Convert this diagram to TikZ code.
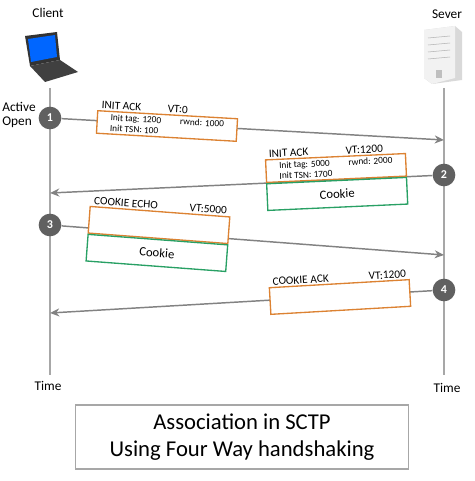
\documentclass[tikz,border=0pt]{standalone}
\usepackage{fontspec}
\setmainfont{Carlito}
\usetikzlibrary{arrows.meta}
\definecolor{org}{RGB}{220,130,50}
\definecolor{grn}{RGB}{40,160,100}
\definecolor{ln}{RGB}{130,130,130}
\begin{document}
\begin{tikzpicture}[x=0.75pt,y=-0.75pt,
  life/.style={draw=ln!70,line width=0.9pt},
  msg/.style={draw=ln,line width=1.1pt,-{Stealth[length=7pt,width=6pt]}},
  stepc/.style={circle,fill=gray!75!black,text=white,inner sep=0pt,minimum size=17pt,font=\fontsize{9}{10}\selectfont\bfseries},
  obox/.style={draw=org,line width=1pt,fill=white,minimum width=105pt,inner sep=2pt,align=left,font=\fontsize{7}{8}\selectfont},
  gbox/.style={draw=grn,line width=1pt,fill=white,minimum width=105pt,minimum height=20pt,font=\fontsize{9.5}{10}\selectfont},
  lab/.style={font=\fontsize{8.5}{10}\selectfont,inner sep=1pt}]
\useasboundingbox (0,0) rectangle (474,481);
% icons
\fill[gray!30] (424,30) -- (455,26) -- (462,32) -- (462,80) -- (432,84) -- (424,78) -- cycle;
\fill[gray!10] (424,30) -- (455,26) -- (455,78) -- (432,84) -- (424,78) -- cycle;
\draw[gray!60] (428,38) -- (450,36) (428,45) -- (450,43) (428,52) -- (450,50) (428,59) -- (450,57);
\fill[gray!50] (436,70) rectangle (442,78);
\fill[black!80] (25,36) -- (57,32) -- (60,60) -- (30,66) -- cycle;
\fill[blue!60!cyan] (28,39) -- (55,35) -- (57,57) -- (31,62) -- cycle;
\fill[black!75] (30,66) -- (60,60) -- (78,72) -- (45,82) -- cycle;
\node[font=\fontsize{10}{12}\selectfont] (cl) at (48,13) {Client};
\node[font=\fontsize{10}{12}\selectfont] (sv) at (447,14) {Sever};
% lifelines
\coordinate (ct) at (50,88); \coordinate (cb) at (50,375);
\coordinate (st) at (444,88); \coordinate (sb) at (444,375);
\draw[life] (ct) -- (cb);
\draw[life] (st) -- (sb);
\node[font=\fontsize{10}{12}\selectfont] (tc) at (48,386) {Time};
\node[font=\fontsize{10}{12}\selectfont] (ts) at (447,388) {Time};
\node[font=\fontsize{10}{12}\selectfont,align=left] (ao) at (19,115) {Active\\[-2pt]Open};
% steps
\node[stepc] (s1) at (50,118) {1};
\node[stepc] (s2) at (444,175) {2};
\node[stepc] (s3) at (50,225) {3};
\node[stepc] (s4) at (444,290) {4};
\coordinate (e1) at (444,140);
\coordinate (e2) at (50,193);
\coordinate (e3) at (444,255);
\coordinate (e4) at (50,313);
\draw[msg] (s1) -- (e1);
\draw[msg] (s2) -- (e2);
\draw[msg] (s3) -- (e3);
\draw[msg] (s4) -- (e4);
% message 1
\node[obox,rotate=-3.3] (m1) at (167,126) {Init tag: 1200\hspace{14pt}rwnd: 1000\\Init TSN: 100};
\node[lab,rotate=-3.3,anchor=south west] (l1) at ([xshift=2pt]m1.north west) {INIT ACK\hspace{20pt}VT:0};
% message 2
\node[obox,rotate=2.6] (m2) at (336,168) {Init tag: 5000\hspace{14pt}rwnd: 2000\\Init TSN: 1700};
\node[gbox,rotate=2.6,anchor=north] (c2) at (m2.south) {Cookie};
\node[lab,rotate=2.6,anchor=south west] (l2) at ([xshift=2pt]m2.north west) {INIT ACK\hspace{28pt}VT:1200};
% message 3
\node[obox,rotate=-4.3,minimum height=20pt] (m3) at (159,225) {};
\node[gbox,rotate=-4.3,anchor=north] (c3) at (m3.south) {Cookie};
\node[lab,rotate=-4.3,anchor=south west] (l3) at ([xshift=2pt]m3.north west) {COOKIE ECHO\hspace{24pt}VT:5000};
% message 4
\node[obox,rotate=3.3,minimum height=20pt] (m4) at (340,297) {};
\node[lab,rotate=3.3,anchor=south west] (l4) at ([xshift=2pt]m4.north west) {COOKIE ACK\hspace{30pt}VT:1200};
% caption
\node[draw=ln!70,line width=0.8pt,minimum width=250pt,minimum height=48pt,align=center,font=\fontsize{17}{20}\selectfont] (cap) at (242,437) {Association in SCTP\\Using Four Way handshaking};
\end{tikzpicture}
\end{document}
